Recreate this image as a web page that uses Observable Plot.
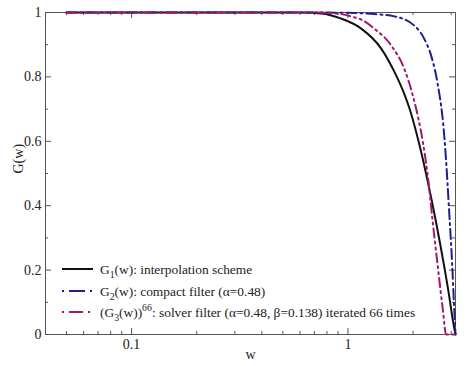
<!DOCTYPE html>
<html><head><meta charset="utf-8">
<script src="https://cdn.jsdelivr.net/npm/d3@7"></script>
<script src="https://cdn.jsdelivr.net/npm/@observablehq/plot@0.6"></script>
<style>body{margin:0;background:#fff} #chart svg{display:block}</style>
</head><body><div id="chart"></div>
<script>
// G1(w): interpolation scheme
const w1 = [0.05, 0.609, 0.753, 0.931, 1.152, 1.425, 1.636, 1.819, 1.919, 2.133, 2.347, 2.556, 2.782, 2.935, 3.061, 3.1416];
const g1 = [1, 1, 0.997, 0.981, 0.950, 0.888, 0.817, 0.748, 0.705, 0.593, 0.470, 0.348, 0.214, 0.121, 0.040, 0];
// G2(w): compact filter
const w2 = [0.05, 0.6, 1.0, 1.322, 1.636, 2.022, 2.250, 2.424, 2.556, 2.638, 2.695, 2.753, 2.842, 2.935, 3.029, 3.094, 3.1416];
const g2 = [1, 1, 0.999, 0.995, 0.988, 0.960, 0.919, 0.866, 0.804, 0.752, 0.711, 0.658, 0.540, 0.385, 0.224, 0.090, 0];
// (G3(w))^66: solver filter iterated 66 times
const w3 = [0.05, 0.7, 0.931, 1.069, 1.152, 1.322, 1.584, 1.819, 2.001, 2.110, 2.226, 2.347, 2.467, 2.602, 2.748, 2.842, 3.1416];
const g3 = [1, 1, 0.995, 0.985, 0.978, 0.950, 0.898, 0.826, 0.739, 0.674, 0.593, 0.484, 0.348, 0.211, 0.075, 0, 0];

const xMajor = [0.1, 1];
const xMinor = [0.05, 0.06, 0.07, 0.08, 0.09, 0.2, 0.3, 0.4, 0.5, 0.6, 0.7, 0.8, 0.9, 2, 3];
const yMajor = [0, 0.2, 0.4, 0.6, 0.8, 1];
const yMinor = [0.1, 0.3, 0.5, 0.7, 0.9];
const xLabel = "w";
const yLabel = "G(w)";

const legendItems = [
  [["G", ""], ["1", "sub"], ["(w): interpolation scheme", ""]],
  [["G", ""], ["2", "sub"], ["(w): compact filter (α=0.48)", ""]],
  [["(G", ""], ["3", "sub"], ["(w))", ""], ["66", "sup"], [": solver filter (α=0.48, β=0.138) iterated 66 times", ""]]
];

const colors = ["#111111", "#1f1f8f", "#a3186e"];
const dashes = [null, "10,4,2,4", "9,4,2,4,2,4"];

const W = 474, H = 366, mt = 12, mb = 32, ml = 45, mr = 19;
const ph = H - mt - mb, pw = W - ml - mr;
const rows = (ws, gs) => ws.map((w, i) => ({w, g: gs[i]}));
const series = [rows(w1, g1), rows(w2, g2), rows(w3, g3)];
const fmt = d => d === 0 ? "0" : d === 1 ? "1" : String(d);
const FONT = "'Liberation Serif', 'Times New Roman', serif";

const chart = Plot.plot({
  width: W, height: H,
  marginTop: mt, marginBottom: mb, marginLeft: ml, marginRight: mr,
  x: {type: "log", domain: [0.04, Math.PI], axis: null},
  y: {domain: [0, 1], axis: null},
  style: {fontFamily: FONT, fontSize: "14px", color: "#222", background: "#fff"},
  marks: [
    Plot.frame({stroke: "#555", strokeWidth: 1}),
    Plot.ruleX(xMajor, {x: d => d, insetTop: ph - 6, stroke: "#555"}),
    Plot.ruleX(xMajor, {x: d => d, insetBottom: ph - 6, stroke: "#555"}),
    Plot.ruleX(xMinor, {x: d => d, insetTop: ph - 3, stroke: "#555"}),
    Plot.ruleX(xMinor, {x: d => d, insetBottom: ph - 3, stroke: "#555"}),
    Plot.ruleY(yMajor, {y: d => d, insetRight: pw - 6, stroke: "#555"}),
    Plot.ruleY(yMajor, {y: d => d, insetLeft: pw - 6, stroke: "#555"}),
    Plot.ruleY(yMinor, {y: d => d, insetRight: pw - 3, stroke: "#555"}),
    Plot.ruleY(yMinor, {y: d => d, insetLeft: pw - 3, stroke: "#555"}),
    Plot.axisX(xMajor, {tickSize: 0, tickPadding: 5, tickFormat: fmt, label: null, fontSize: 14}),
    Plot.axisY(yMajor, {tickSize: 0, tickPadding: 4, tickFormat: fmt, label: null, fontSize: 14}),
    Plot.text([xLabel], {frameAnchor: "bottom", dy: 24, text: d => d, fontSize: 14}),
    Plot.text([yLabel], {frameAnchor: "left", dx: -27, rotate: -90, text: d => d, fontSize: 14}),
    ...series.map((s, i) => Plot.line(s, {x: "w", y: "g", stroke: colors[i], strokeWidth: 2, strokeDasharray: dashes[i], curve: "monotone-x"}))
  ]
});

// legend
const svg = d3.select(chart);
const lg = svg.append("g").attr("font-family", FONT).attr("font-size", 13.4).attr("fill", "#222").attr("text-anchor", "start");
const rowY = [269, 291, 312];
legendItems.forEach((parts, i) => {
  const y = rowY[i];
  lg.append("line").attr("x1", 62).attr("x2", 93).attr("y1", y).attr("y2", y)
    .attr("stroke", colors[i]).attr("stroke-width", 2)
    .attr("stroke-dasharray", i === 1 ? "2,5,16,5,2" : i === 2 ? "2,5,14,5,2,5,2" : null);
  const t = lg.append("text").attr("x", 100).attr("y", y + 4.5).attr("text-anchor", "start");
  let shift = 0;
  parts.forEach(([s, kind]) => {
    const target = kind === "sub" ? 4 : kind === "sup" ? -6 : 0;
    const ts = t.append("tspan").text(s).attr("dy", target - shift);
    if (kind) ts.attr("font-size", 9.8);
    shift = target;
  });
});

document.getElementById("chart").appendChild(chart);
</script>
</body></html>
